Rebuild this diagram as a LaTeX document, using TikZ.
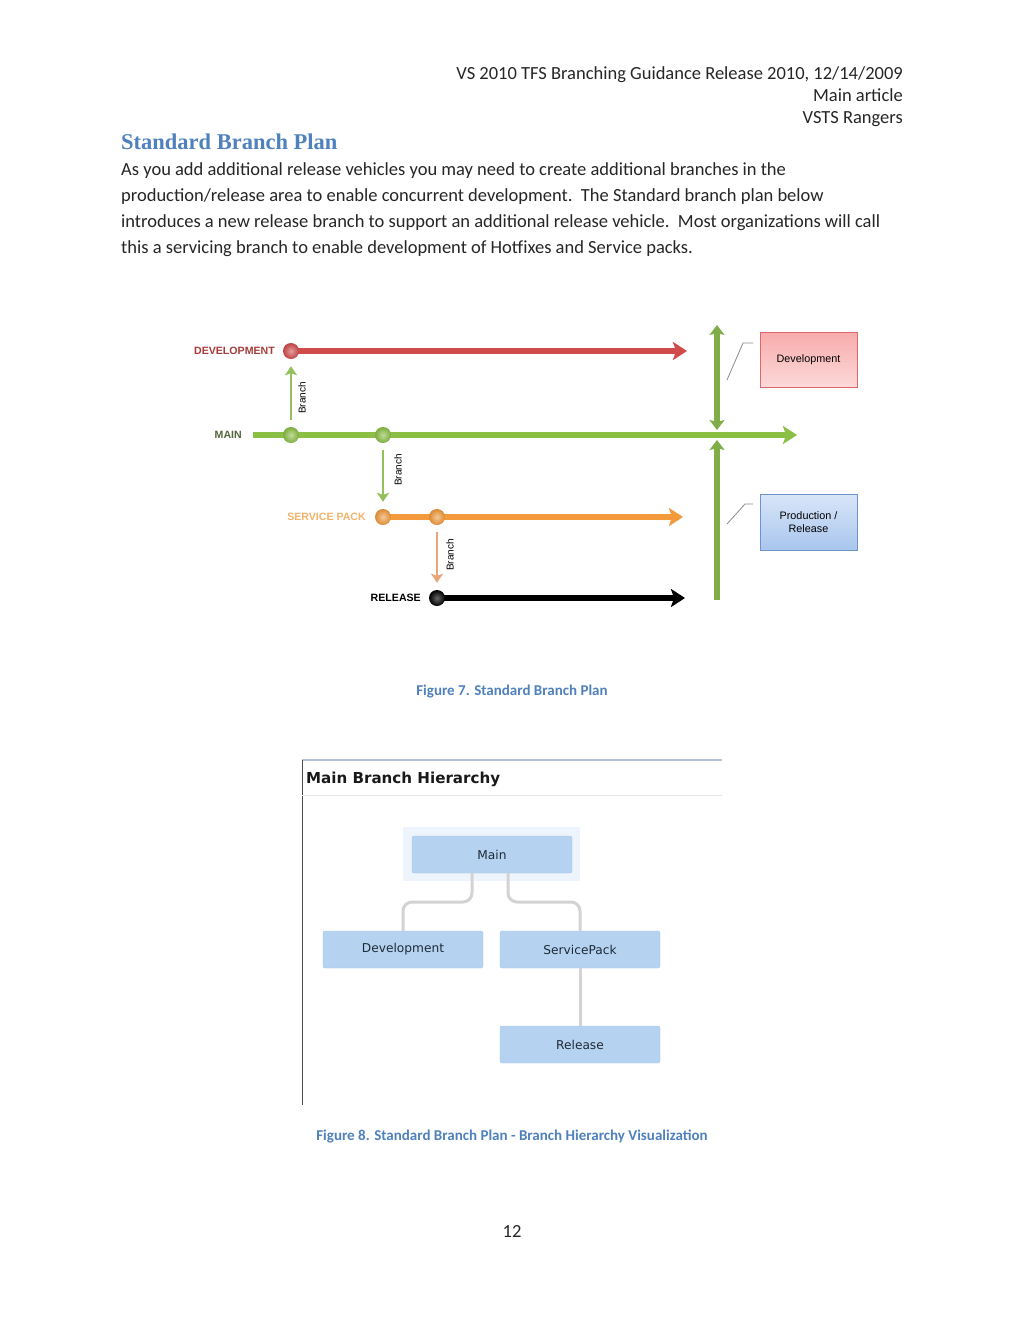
\documentclass[tikz,border=0pt]{standalone}
\usepackage{fontspec}
\setmainfont{Carlito}
\newfontfamily\arialf{Liberation Sans}
\newfontfamily\headf{Liberation Serif}
\newfontfamily\tahf{DejaVu Sans}
\usetikzlibrary{arrows.meta}
\definecolor{headblue}{HTML}{4F81BD}
\definecolor{devred}{HTML}{D24B4B}
\definecolor{devlab}{HTML}{A83C3A}
\definecolor{mgreen}{HTML}{8CBF45}
\definecolor{mlab}{HTML}{56663E}
\definecolor{sorange}{HTML}{F39A3C}
\definecolor{slab}{HTML}{F2B36A}
\definecolor{bgreen}{HTML}{93C05A}
\definecolor{borange}{HTML}{E9A57A}
\definecolor{vgreen}{HTML}{7FAE48}
\definecolor{pinkfill}{HTML}{F8ABAB}
\definecolor{pinkborder}{HTML}{D9696A}
\definecolor{bluefill}{HTML}{A9C6EE}
\definecolor{blueborder}{HTML}{6D93C9}
\definecolor{hfill}{HTML}{B5D3F1}
\definecolor{hborder}{HTML}{A6C7E8}
\definecolor{halo}{HTML}{EEF4FB}
\definecolor{hconn}{HTML}{D3D3D3}
\definecolor{htext}{HTML}{1E2A36}
\definecolor{frameline}{HTML}{B4C2D6}
\tikzset{
  txt/.style={inner sep=0pt, font=\fontsize{18.5}{22}\selectfont, text=black!85},
  difflab/.style={inner sep=0pt, font=\arialf\bfseries\fontsize{10.6}{12}\selectfont},
  brlab/.style={inner sep=0pt, rotate=90, font=\arialf\fontsize{10}{11}\selectfont},
  mainline/.style={line width=6.5pt, -{Stealth[length=14pt,width=18pt,inset=3pt]}},
  dot/.style={circle, minimum size=16pt, inner sep=0pt, shading=radial},
  brarrow/.style={line width=2.6pt, -{Stealth[length=9pt,width=12pt,inset=2pt]}, shorten <=7pt, shorten >=7pt},
  vline/.style={line width=6.5pt, draw=vgreen},
  boxpink/.style={draw=pinkborder, line width=0.8pt, top color=pinkfill, bottom color=pinkfill!45, minimum width=97pt, minimum height=55pt, inner sep=0pt, font=\arialf\fontsize{10.8}{12.5}\selectfont, align=center},
  boxblue/.style={draw=blueborder, line width=0.8pt, top color=bluefill!45, bottom color=bluefill, minimum width=97pt, minimum height=56pt, inner sep=0pt, font=\arialf\fontsize{10.8}{12.5}\selectfont, align=center},
  callout/.style={draw=black!45, line width=0.8pt},
  hbox/.style={draw=hborder, fill=hfill, rounded corners=2pt, minimum width=160pt, minimum height=37pt, inner sep=0pt, font=\tahf\fontsize{12.2}{14}\selectfont, text=htext},
  hline/.style={draw=hconn, line width=3pt, rounded corners=9pt},
  caption/.style={inner sep=0pt, font=\bfseries\fontsize{15}{17}\selectfont, text=headblue}
}
\begin{document}
\begin{tikzpicture}[x=1pt,y=-1pt]
\useasboundingbox[fill=white] (0,0) rectangle (1024,1326);

% header
\node[txt, anchor=base east] (h1) at (903,79.5) {VS 2010 TFS Branching Guidance Release 2010, 12/14/2009};
\node[txt, anchor=base east] (h2) at (903,101.5) {Main article};
\node[txt, anchor=base east] (h3) at (903,123) {VSTS Rangers};

\node[inner sep=0pt, anchor=base west, font=\headf\bfseries\fontsize{22.5}{26}\selectfont, text=headblue] (title) at (121,149) {Standard Branch Plan};

\node[txt, anchor=base west] (p1) at (121,175.5) {As you add additional release vehicles you may need to create additional branches in the};
\node[txt, anchor=base west] (p2) at (121,201.5) {production/release area to enable concurrent development.\ \ The Standard branch plan below};
\node[txt, anchor=base west] (p3) at (121,227.5) {introduces a new release branch to support an additional release vehicle.\ \ Most organizations will call};
\node[txt, anchor=base west] (p4) at (121,253.5) {this a servicing branch to enable development of Hotfixes and Service packs.};

% ---------- Figure 7 ----------
\node[difflab, text=devlab, anchor=east] (ldev) at (275,351) {DEVELOPMENT};
\node[difflab, text=mlab, anchor=east] (lmain) at (242,435) {MAIN};
\node[difflab, text=slab, anchor=east] (lsp) at (366,517) {SERVICE PACK};
\node[difflab, text=black, anchor=east] (lrel) at (421,598) {RELEASE};

\coordinate (d0) at (291,351); \coordinate (d1) at (687,351);
\coordinate (m0) at (253,435); \coordinate (m1) at (797,435);
\coordinate (s0) at (383,517); \coordinate (s1) at (683,517);
\coordinate (r0) at (437,598); \coordinate (r1) at (685,598);

\draw[mainline, draw=devred] (d0) -- (d1);
\draw[mainline, draw=mgreen] (m0) -- (m1);
\draw[mainline, draw=sorange] (s0) -- (s1);
\draw[mainline, draw=black] (r0) -- (r1);

\node[dot, inner color=devred!55!white, outer color=devred!90!black] (dA) at (d0) {};
\node[dot, inner color=mgreen!55!white, outer color=mgreen!90!black] (mA) at (291,435) {};
\node[dot, inner color=mgreen!55!white, outer color=mgreen!90!black] (mB) at (383,435) {};
\node[dot, inner color=sorange!55!white, outer color=sorange!90!black] (sA) at (s0) {};
\node[dot, inner color=sorange!55!white, outer color=sorange!90!black] (sB) at (437,517) {};
\node[dot, inner color=black!60, outer color=black] (rA) at (r0) {};

\draw[brarrow, draw=bgreen] (mA) -- (dA);
\draw[brarrow, draw=bgreen] (mB) -- (sA);
\draw[brarrow, draw=borange] (sB) -- (rA);

\node[brlab] (b1) at (302,398) {Branch};
\node[brlab] (b2) at (398,470) {Branch};
\node[brlab] (b3) at (450,555) {Branch};

\coordinate (v0) at (717,325); \coordinate (v1) at (717,430);
\coordinate (v2) at (717,600); \coordinate (v3) at (717,440);
\draw[vline, {Stealth[length=10pt,width=15pt,inset=2pt]}-{Stealth[length=10pt,width=15pt,inset=2pt]}] (v0) -- (v1);
\draw[vline, -{Stealth[length=10pt,width=15pt,inset=2pt]}] (v2) -- (v3);

\node[boxpink] (bdev) at (808.5,359.5) {Development};
\node[boxblue] (bprod) at (808.5,522) {Production /\\Release};

\coordinate (c1) at (727,380); \coordinate (c2) at (743,343); \coordinate (c3) at (753,343);
\draw[callout] (c1) -- (c2) -- (c3);
\coordinate (c4) at (727,524); \coordinate (c5) at (745,504); \coordinate (c6) at (753,504);
\draw[callout] (c4) -- (c5) -- (c6);

\node[caption, anchor=base] (cap7) at (512,695.5) {Figure 7. Standard Branch Plan};

% ---------- Figure 8 ----------
\coordinate (f0) at (302,760); \coordinate (f1) at (722,760); \coordinate (f2) at (302,1105);
\draw[draw=frameline, line width=1.2pt] (f1) -- (f0);
\draw[draw=black!70, line width=1pt] (f0) -- (f2);
\coordinate (g0) at (302,795); \coordinate (g1) at (722,795);
\draw[draw=black!10, line width=0.8pt] (g0) -- (g1);
\node[inner sep=0pt, anchor=west, font=\tahf\bfseries\fontsize{15.1}{17}\selectfont, text=black!90] (htitle) at (306,779) {Main Branch Hierarchy};

\fill[halo] (403,827) rectangle (580,881);
\node[hbox] (hmain) at (492,854.5) {Main};
\node[hbox] (hdev) at (403,949.5) {Development};
\node[hbox] (hsp) at (580,949.5) {ServicePack};
\node[hbox] (hrel) at (580,1044.5) {Release};

\coordinate (j1) at (472,902); \coordinate (j2) at (508,902);
\draw[hline] (hmain.south -| j1) -- (j1) -- (j1 -| hdev.north) -- (hdev.north);
\draw[hline] (hmain.south -| j2) -- (j2) -- (j2 -| hsp.north) -- (hsp.north);
\draw[hline] (hsp.south) -- (hrel.north);

\node[caption, anchor=base] (cap8) at (512,1140.5) {Figure 8. Standard Branch Plan - Branch Hierarchy Visualization};

\node[txt, anchor=base] (pnum) at (512,1237.5) {12};
\end{tikzpicture}
\end{document}
